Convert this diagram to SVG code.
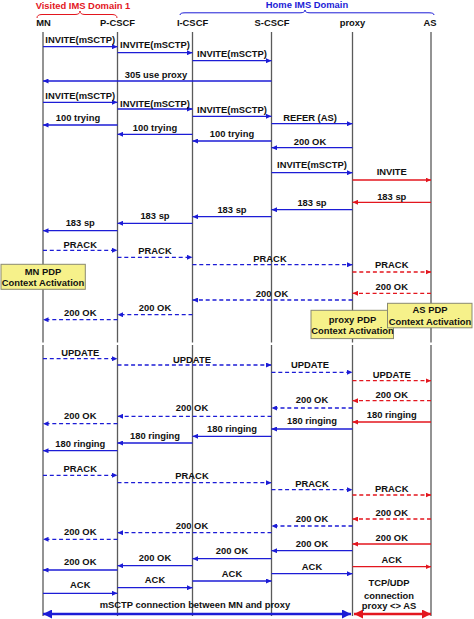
<svg xmlns="http://www.w3.org/2000/svg" width="474" height="619" viewBox="0 0 474 619">
<style>
text{font-family:"Liberation Sans",Arial,sans-serif;font-weight:bold;font-size:9.4px;fill:#111;text-anchor:middle}
.life{stroke:#5a5a5a;stroke-width:1.3;fill:none}
.b{stroke:#1c1cd6;stroke-width:1.3;fill:none;marker-end:url(#ab)}
.bd{stroke:#1c1cd6;stroke-width:1.3;fill:none;stroke-dasharray:4 2.8;marker-end:url(#ab)}
.r{stroke:#e3161e;stroke-width:1.3;fill:none;marker-end:url(#ar)}
.rd{stroke:#e3161e;stroke-width:1.3;fill:none;stroke-dasharray:4 2.8;marker-end:url(#ar)}
.box{fill:#f6f18a;stroke:#8a8a70;stroke-width:1}
</style>
<defs>
<marker id="ab" markerUnits="userSpaceOnUse" markerWidth="6" markerHeight="5" refX="5.5" refY="2.5" orient="auto"><path d="M0,0 L5.5,2.5 L0,5 z" fill="#1c1cd6"/></marker>
<marker id="ar" markerUnits="userSpaceOnUse" markerWidth="6" markerHeight="5" refX="5.5" refY="2.5" orient="auto"><path d="M0,0 L5.5,2.5 L0,5 z" fill="#e3161e"/></marker>
<marker id="bb" markerUnits="userSpaceOnUse" markerWidth="10" markerHeight="9" refX="9" refY="4.5" orient="auto-start-reverse"><path d="M0,0 L9,4.5 L0,9 z" fill="#1c1cd6"/></marker>
<marker id="br" markerUnits="userSpaceOnUse" markerWidth="10" markerHeight="9" refX="9" refY="4.5" orient="auto-start-reverse"><path d="M0,0 L9,4.5 L0,9 z" fill="#e3161e"/></marker>
</defs>

<g id="domains">
<text x="83" y="8.5" style="fill:#e3161e">Visited IMS Domain 1</text>
<path d="M37,18 Q37,14.5 42,14.5 L75,14.5 Q80,14.5 80,11 Q80,14.5 85,14.5 L112,14.5 Q117,14.5 117,18" fill="none" stroke="#e3161e" stroke-width="1"/>
<text x="307" y="8" style="fill:#1c1cd6">Home IMS Domain</text>
<path d="M180,15 Q180,12.8 185,12.8 L300,12.8 Q305,12.8 305,10 Q305,12.8 310,12.8 L429,12.8 Q434,12.8 434,15" fill="none" stroke="#1c1cd6" stroke-width="1"/>
</g>

<g id="MN"><text x="43.5" y="26">MN</text><path class="life" d="M43,32 V342.5 M43,345 V616"/></g>
<g id="P-CSCF"><text x="117.5" y="26">P-CSCF</text><path class="life" d="M117.5,32 V342.5 M117.5,345 V616"/></g>
<g id="I-CSCF"><text x="192.5" y="26">I-CSCF</text><path class="life" d="M192.5,32 V342.5 M192.5,345 V616"/></g>
<g id="S-CSCF"><text x="272" y="26">S-CSCF</text><path class="life" d="M271.5,32 V342.5 M271.5,345 V616"/></g>
<g id="proxy"><text x="352.5" y="26">proxy</text><path class="life" d="M352.5,32 V342.5 M352.5,345 V616"/></g>
<g id="AS"><text x="430" y="26">AS</text><path class="life" d="M431,32 V342.5 M431,345 V616"/></g>

<g id="connectors">
<line class="b" x1="43" y1="46.7" x2="117.5" y2="46.7"/><text x="80.25" y="43.4">INVITE(mSCTP)</text>
<line class="b" x1="117.5" y1="52.7" x2="192.5" y2="52.7"/><text x="155" y="47.7">INVITE(mSCTP)</text>
<line class="b" x1="192.5" y1="60.7" x2="271.5" y2="60.7"/><text x="232" y="56.7">INVITE(mSCTP)</text>
<line class="b" x1="271.5" y1="81" x2="43" y2="81"/><text x="156" y="78.1">305 use proxy</text>
<line class="b" x1="43" y1="102.3" x2="117.5" y2="102.3"/><text x="80.25" y="99.1">INVITE(mSCTP)</text>
<line class="b" x1="117.5" y1="109" x2="192.5" y2="109"/><text x="155" y="106.7">INVITE(mSCTP)</text>
<line class="b" x1="192.5" y1="116.3" x2="271.5" y2="116.3"/><text x="232" y="113.4">INVITE(mSCTP)</text>
<line class="b" x1="117.5" y1="125" x2="43" y2="125"/><text x="78" y="120.7">100 trying</text>
<line class="b" x1="192.5" y1="134.3" x2="117.5" y2="134.3"/><text x="155" y="131.1">100 trying</text>
<line class="b" x1="271.5" y1="141" x2="192.5" y2="141"/><text x="232" y="136.7">100 trying</text>
<line class="b" x1="271.5" y1="123.7" x2="352.5" y2="123.7"/><text x="310" y="120.7">REFER (AS)</text>
<line class="b" x1="352.5" y1="147.7" x2="271.5" y2="147.7"/><text x="310" y="145.1">200 OK</text>
<line class="b" x1="271.5" y1="172.7" x2="352.5" y2="172.7"/><text x="312" y="168.4">INVITE(mSCTP)</text>
<line class="r" x1="352.5" y1="180" x2="431" y2="180"/><text x="391.75" y="175.1">INVITE</text>
<line class="r" x1="431" y1="202.3" x2="352.5" y2="202.3"/><text x="391.75" y="200.1">183 sp</text>
<line class="b" x1="352.5" y1="209.7" x2="271.5" y2="209.7"/><text x="312" y="205.7">183 sp</text>
<line class="b" x1="271.5" y1="216.7" x2="192.5" y2="216.7"/><text x="232" y="213.4">183 sp</text>
<line class="b" x1="192.5" y1="223.3" x2="117.5" y2="223.3"/><text x="155" y="219.4">183 sp</text>
<line class="b" x1="117.5" y1="230.7" x2="43" y2="230.7"/><text x="80.25" y="226.1">183 sp</text>
<line class="bd" x1="43" y1="250.3" x2="117.5" y2="250.3"/><text x="80.25" y="247.7">PRACK</text>
<line class="bd" x1="117.5" y1="257.3" x2="192.5" y2="257.3"/><text x="155" y="254.4">PRACK</text>
<line class="bd" x1="192.5" y1="264.7" x2="352.5" y2="264.7"/><text x="270" y="261.7">PRACK</text>
<line class="rd" x1="352.5" y1="272" x2="431" y2="272"/><text x="391.75" y="268.4">PRACK</text>
<line class="rd" x1="431" y1="293.3" x2="352.5" y2="293.3"/><text x="391.75" y="290.1">200 OK</text>
<line class="bd" x1="352.5" y1="300" x2="192.5" y2="300"/><text x="272" y="296.7">200 OK</text>
<line class="bd" x1="192.5" y1="314.7" x2="117.5" y2="314.7"/><text x="155" y="310.7">200 OK</text>
<line class="bd" x1="117.5" y1="319.7" x2="43" y2="319.7"/><text x="80.25" y="315.7">200 OK</text>
<line class="bd" x1="43" y1="358.7" x2="117.5" y2="358.7"/><text x="80.25" y="355.7">UPDATE</text>
<line class="bd" x1="117.5" y1="365" x2="271.5" y2="365"/><text x="192" y="362.7">UPDATE</text>
<line class="bd" x1="271.5" y1="372.3" x2="352.5" y2="372.3"/><text x="310" y="368.4">UPDATE</text>
<line class="rd" x1="352.5" y1="380.7" x2="431" y2="380.7"/><text x="391.75" y="377.7">UPDATE</text>
<line class="rd" x1="431" y1="400.7" x2="352.5" y2="400.7"/><text x="391.75" y="397.7">200 OK</text>
<line class="bd" x1="352.5" y1="408" x2="271.5" y2="408"/><text x="312" y="403.4">200 OK</text>
<line class="bd" x1="271.5" y1="416.3" x2="117.5" y2="416.3"/><text x="192" y="410.7">200 OK</text>
<line class="bd" x1="117.5" y1="423.7" x2="43" y2="423.7"/><text x="80.25" y="418.7">200 OK</text>
<line class="r" x1="431" y1="422" x2="352.5" y2="422"/><text x="391.75" y="417.7">180 ringing</text>
<line class="b" x1="352.5" y1="429" x2="271.5" y2="429"/><text x="312" y="424.4">180 ringing</text>
<line class="b" x1="271.5" y1="436.3" x2="192.5" y2="436.3"/><text x="232" y="432.4">180 ringing</text>
<line class="b" x1="192.5" y1="443" x2="117.5" y2="443"/><text x="155" y="439.4">180 ringing</text>
<line class="b" x1="117.5" y1="450.7" x2="43" y2="450.7"/><text x="80.25" y="446.7">180 ringing</text>
<line class="bd" x1="43" y1="475.3" x2="117.5" y2="475.3"/><text x="80.25" y="472.4">PRACK</text>
<line class="bd" x1="117.5" y1="482.7" x2="271.5" y2="482.7"/><text x="192" y="479.4">PRACK</text>
<line class="bd" x1="271.5" y1="489.7" x2="352.5" y2="489.7"/><text x="312" y="486.7">PRACK</text>
<line class="rd" x1="352.5" y1="495" x2="431" y2="495"/><text x="391.75" y="492.4">PRACK</text>
<line class="rd" x1="431" y1="519" x2="352.5" y2="519"/><text x="391.75" y="515.7">200 OK</text>
<line class="bd" x1="352.5" y1="526" x2="271.5" y2="526"/><text x="312" y="521.7">200 OK</text>
<line class="bd" x1="271.5" y1="532.7" x2="117.5" y2="532.7"/><text x="192" y="529.1">200 OK</text>
<line class="bd" x1="117.5" y1="539.3" x2="43" y2="539.3"/><text x="80.25" y="535.1">200 OK</text>
<line class="r" x1="431" y1="544" x2="352.5" y2="544"/><text x="391.75" y="540.7">200 OK</text>
<line class="b" x1="352.5" y1="550.7" x2="271.5" y2="550.7"/><text x="312" y="546.7">200 OK</text>
<line class="b" x1="271.5" y1="558.7" x2="192.5" y2="558.7"/><text x="232" y="554.1">200 OK</text>
<line class="b" x1="192.5" y1="565.7" x2="117.5" y2="565.7"/><text x="155" y="560.7">200 OK</text>
<line class="b" x1="117.5" y1="570" x2="43" y2="570"/><text x="80.25" y="565.4">200 OK</text>
<line class="r" x1="352.5" y1="566.7" x2="431" y2="566.7"/><text x="391.75" y="562.7">ACK</text>
<line class="b" x1="271.5" y1="573.7" x2="352.5" y2="573.7"/><text x="312" y="569.7">ACK</text>
<line class="b" x1="192.5" y1="581" x2="271.5" y2="581"/><text x="232" y="576.7">ACK</text>
<line class="b" x1="117.5" y1="587.7" x2="192.5" y2="587.7"/><text x="155" y="583.4">ACK</text>
<line class="b" x1="43" y1="593.3" x2="117.5" y2="593.3"/><text x="80.25" y="588.4">ACK</text>
<line x1="43" y1="614" x2="351" y2="614" stroke="#1c1cd6" stroke-width="2.6" marker-start="url(#bb)" marker-end="url(#bb)"/>
<text x="195" y="608">mSCTP connection between MN and proxy</text>
<line x1="354" y1="614" x2="431" y2="614" stroke="#e3161e" stroke-width="2.6" marker-start="url(#br)" marker-end="url(#br)"/>
<text x="389" y="586">TCP/UDP</text>
<text x="389" y="598.7">connection</text>
<text x="389" y="609.4">proxy &lt;&gt; AS</text>
</g>

<g id="mn-pdp"><rect class="box" x="1" y="264.3" width="84.3" height="25"/><text x="43" y="275">MN PDP</text><text x="43" y="286">Context Activation</text></g>
<g id="proxy-pdp"><rect class="box" x="311" y="310.3" width="82.5" height="28.3"/><text x="352.5" y="322.7">proxy PDP</text><text x="352.5" y="333.7">Context Activation</text></g>
<g id="as-pdp"><rect class="box" x="387.5" y="303.3" width="84.5" height="24.5"/><text x="430" y="313.4">AS PDP</text><text x="430" y="324.7">Context Activation</text></g>
</svg>
